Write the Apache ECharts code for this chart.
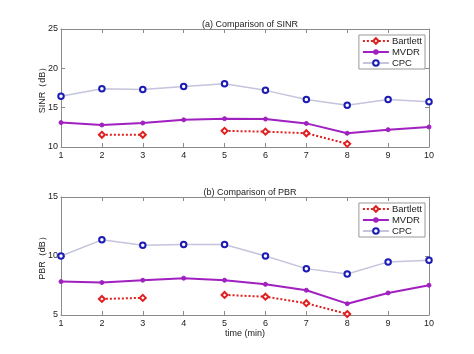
<!DOCTYPE html>
<html>
<head>
<meta charset="utf-8">
<script src="https://cdn.jsdelivr.net/npm/echarts@6/dist/echarts.min.js"></script>
<style>
  html, body { margin: 0; padding: 0; background: #fff; }
  #main { width: 474px; height: 354px; }
</style>
</head>
<body>
<div id="main"></div>
<script>
// data
const times = ['1', '2', '3', '4', '5', '6', '7', '8', '9', '10'];

const sinrBartlett = [null, 11.55, 11.55, null, 12.05, 11.95, 11.75, 10.4, null, null];
const sinrMVDR = [13.1, 12.8, 13.05, 13.45, 13.6, 13.55, 13.0, 11.75, 12.2, 12.55];
const sinrCPC = [16.45, 17.4, 17.3, 17.7, 18.05, 17.2, 16.05, 15.3, 16.05, 15.75];

const pbrBartlett = [null, 6.36, 6.45, null, 6.7, 6.55, 6.0, 5.08, null, null];
const pbrMVDR = [7.83, 7.75, 7.95, 8.12, 7.95, 7.6, 7.1, 5.96, 6.87, 7.52];
const pbrCPC = [10.0, 11.37, 10.92, 10.97, 10.97, 10.0, 8.93, 8.48, 9.5, 9.65];

const font = 'Liberation Sans, Arial, sans-serif';
const axisColor = '#8a8a8a';
const textColor = '#222';

let myChart = echarts.init(document.getElementById('main'));

function xAxes(gridIndex, withName) {
    return [
        {
            type: 'category', gridIndex: gridIndex, data: times, boundaryGap: false,
            position: 'bottom',
            name: withName ? 'time (min)' : '', nameLocation: 'middle', nameGap: 14,
            nameMoveOverlap: false,
            nameTextStyle: { color: textColor, fontSize: 9, fontFamily: font },
            axisLine: { lineStyle: { color: axisColor } },
            axisTick: { inside: true, length: 4, lineStyle: { color: axisColor } },
            axisLabel: { color: textColor, fontSize: 9, fontFamily: font, margin: 4 },
            splitLine: { show: false }
        },
        {
            type: 'category', gridIndex: gridIndex, data: times, boundaryGap: false,
            position: 'top',
            axisLine: { lineStyle: { color: axisColor } },
            axisTick: { inside: true, length: 4, lineStyle: { color: axisColor } },
            axisLabel: { show: false },
            splitLine: { show: false }
        }
    ];
}

function yAxes(gridIndex, name, min, max) {
    return [
        {
            type: 'value', gridIndex: gridIndex, min: min, max: max, interval: 5,
            position: 'left',
            name: name, nameLocation: 'middle', nameGap: 14,
            nameMoveOverlap: false,
            nameTextStyle: { color: textColor, fontSize: 9, fontFamily: font },
            axisLine: { show: true, lineStyle: { color: axisColor } },
            axisTick: { show: true, inside: true, length: 4, lineStyle: { color: axisColor } },
            axisLabel: { color: textColor, fontSize: 9, fontFamily: font, margin: 3 },
            splitLine: { show: false }
        },
        {
            type: 'value', gridIndex: gridIndex, min: min, max: max, interval: 5,
            position: 'right',
            axisLine: { show: true, lineStyle: { color: axisColor } },
            axisTick: { show: true, inside: true, length: 4, lineStyle: { color: axisColor } },
            axisLabel: { show: false },
            splitLine: { show: false }
        }
    ];
}

function seriesSet(xi, yi, bart, mvdr, cpc) {
    return [
        {
            name: 'Bartlett', type: 'line', xAxisIndex: xi, yAxisIndex: yi, data: bart,
            connectNulls: false, symbol: 'diamond', symbolSize: 6, showAllSymbol: true,
            lineStyle: { color: '#e02020', width: 2, type: 'dotted' },
            itemStyle: { color: '#fff', borderColor: '#e02020', borderWidth: 2 },
            z: 3
        },
        {
            name: 'MVDR', type: 'line', xAxisIndex: xi, yAxisIndex: yi, data: mvdr,
            symbol: 'circle', symbolSize: 4, showAllSymbol: true,
            lineStyle: { color: '#a020c0', width: 2 },
            itemStyle: { color: '#a020c0', borderColor: '#a020c0' },
            z: 2
        },
        {
            name: 'CPC', type: 'line', xAxisIndex: xi, yAxisIndex: yi, data: cpc,
            symbol: 'circle', symbolSize: 5.5, showAllSymbol: true,
            lineStyle: { color: '#c4c4dc', width: 1.5 },
            itemStyle: { color: '#fff', borderColor: '#1c1cb4', borderWidth: 2 },
            z: 4
        }
    ];
}

function legendAt(top) {
    return {
        orient: 'vertical', right: 49, top: top,
        data: ['Bartlett', 'MVDR', 'CPC'],
        backgroundColor: '#fff', borderColor: '#999', borderWidth: 1, borderRadius: 0,
        padding: [1, 3, 1, 3], itemGap: 1, itemWidth: 26, itemHeight: 7,
        textStyle: { color: textColor, fontSize: 9.5, fontFamily: font, padding: [0, 0, 0, -2] }
    };
}

option = {
    backgroundColor: '#fff',
    animation: false,
    title: [
        { text: '(a) Comparison of SINR', left: 245, top: 15, textAlign: 'center',
          textStyle: { color: textColor, fontSize: 9, fontWeight: 'normal', fontFamily: font } },
        { text: '(b) Comparison of PBR', left: 245, top: 183, textAlign: 'center',
          textStyle: { color: textColor, fontSize: 9, fontWeight: 'normal', fontFamily: font } }
    ],
    legend: [legendAt(35), legendAt(203)],
    grid: [
        { left: 61, right: 45, top: 29, height: 118 },
        { left: 61, right: 45, top: 197, height: 118 }
    ],
    xAxis: xAxes(0, false).concat(xAxes(1, true)),
    yAxis: yAxes(0, 'SINR（dB）', 10, 25).concat(yAxes(1, 'PBR（dB）', 5, 15)),
    series: seriesSet(0, 0, sinrBartlett, sinrMVDR, sinrCPC)
        .concat(seriesSet(2, 2, pbrBartlett, pbrMVDR, pbrCPC))
};

myChart.setOption(option);
</script>
</body>
</html>
